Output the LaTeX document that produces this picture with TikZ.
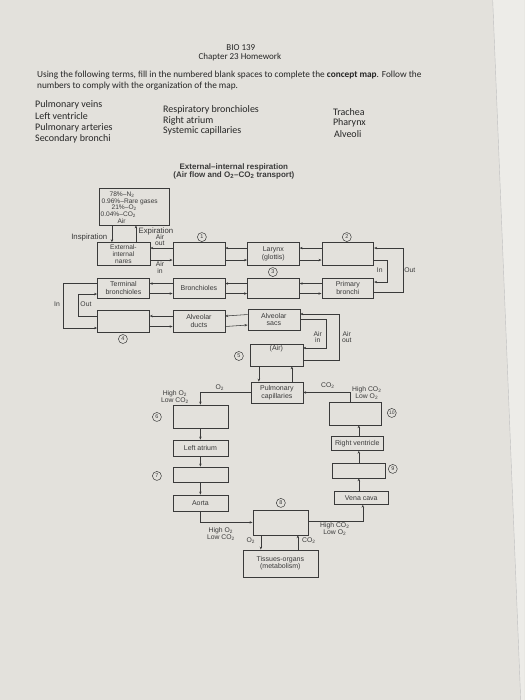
\documentclass[tikz,border=0pt]{standalone}
\usepackage{fontspec}
\setmainfont{Liberation Sans}
\newfontfamily\hfont{Carlito}
\usetikzlibrary{arrows.meta}
\definecolor{paper}{HTML}{E3E1DC}
\definecolor{strip}{HTML}{EDECE8}
\definecolor{ink}{HTML}{3A3A3A}
\begin{document}
\begin{tikzpicture}[x=1pt,y=-1pt,
 bx/.style={draw=ink, line width=0.6pt, minimum width=52pt, minimum height=22pt, inner sep=0.5pt, align=center, text=ink, font=\fontsize{7}{7.6}\selectfont},
 num/.style={circle, draw=ink, line width=0.5pt, minimum size=9pt, inner sep=0pt, text=ink, font=\fontsize{5.5}{6}\selectfont},
 arr/.style={draw=ink, line width=0.55pt, -{Stealth[length=3pt,width=2.4pt]}},
 lbl/.style={text=ink, inner sep=0.5pt, align=center, font=\fontsize{6.8}{6.5}\selectfont},
 hd/.style={text=black!85, inner sep=0pt, font=\hfont\fontsize{9.3}{10}\selectfont},
 term/.style={text=black!85, inner sep=0pt, anchor=west, font=\hfont\fontsize{10}{11}\selectfont},
]
% background
\fill[paper] (0,0) rectangle (525,700);
\fill[strip] (493,0) -- (525,0) -- (525,700) -- (521,700) -- cycle;
\draw[black!25, line width=0.4pt] (493,0) -- (521,700);
\useasboundingbox (0,0) rectangle (525,700);

% header
\node[hd, font=\hfont\fontsize{9}{10}\selectfont] (bio) at (241,47) {BIO 139};
\node[hd, font=\hfont\fontsize{9}{10}\selectfont] (chap) at (240,57) {Chapter 23 Homework};
\node[hd, anchor=west] (ins1) at (37,75) {Using the following terms, fill in the numbered blank spaces to complete the \textbf{concept map}. Follow the};
\node[hd, anchor=west] (ins2) at (37,86) {numbers to comply with the organization of the map.};
\node[term] (t1) at (35,105) {Pulmonary veins};
\node[term] (t2) at (35,116) {Left ventricle};
\node[term] (t3) at (35,127.5) {Pulmonary arteries};
\node[term] (t4) at (35,138.5) {Secondary bronchi};
\node[term] (t5) at (163,110) {Respiratory bronchioles};
\node[term] (t6) at (163,120.5) {Right atrium};
\node[term] (t7) at (163,131) {Systemic capillaries};
\node[term] (t8) at (333,112) {Trachea};
\node[term] (t9) at (333,123) {Pharynx};
\node[term] (t10) at (334,134) {Alveoli};

\node[text=ink, align=center, inner sep=0pt, font=\bfseries\fontsize{8}{7.6}\selectfont] (ttl) at (234,171.5) {External--internal respiration\\(Air flow and O\textsubscript{2}--CO\textsubscript{2} transport)};

% boxes
\node[bx, minimum width=70pt, minimum height=37pt] (air) at (134,206.5) {};
\node[lbl, align=left, anchor=west, font=\fontsize{6.6}{6.7}\selectfont] (airtxt) at (100,207.5) {\hspace{9pt}78\%--N\textsubscript{2}\\\hspace{1pt}0.96\%--Rare gases\\\hspace{11pt}21\%--O\textsubscript{2}\\0.04\%--CO\textsubscript{2}\\\hspace{17pt}Air};
\node[bx, minimum width=53pt, minimum height=23pt, font=\fontsize{6.6}{6.7}\selectfont] (nares) at (123.5,254) {External-\\internal\\nares};
\node[bx, minimum height=23pt] (b1) at (199,254) {};
\node[bx, minimum height=23pt] (lar) at (273.5,254) {Larynx\\(glottis)};
\node[bx, minimum height=23pt] (b2) at (348,254) {};

\node[bx, minimum height=20pt] (tb) at (123.5,288) {Terminal\\bronchioles};
\node[bx, minimum height=20pt] (bron) at (199,288) {Bronchioles};
\node[bx, minimum height=20pt] (b3) at (273.5,288) {};
\node[bx, minimum height=20pt] (pb) at (348,288) {Primary\\bronchi};

\node[bx] (b4) at (123.5,321) {};
\node[bx] (ad) at (199,321) {Alveolar\\ducts};
\node[bx, minimum height=21pt] (sacs) at (274,319.5) {Alveolar\\sacs};

\node[bx, minimum width=53pt] (airb) at (276.5,355) {};
\node[lbl, font=\fontsize{7}{7}\selectfont] (airlbl) at (276.5,349) {(Air)};
\node[bx, minimum height=21pt] (pulm) at (277,392.5) {Pulmonary\\capillaries};

\node[bx, minimum width=55pt, minimum height=23pt] (b6) at (200.5,416.5) {};
\node[bx, minimum width=55pt, minimum height=16pt] (la) at (200.5,448) {Left atrium};
\node[bx, minimum width=55pt, minimum height=15pt] (b7) at (200.5,474.5) {};
\node[bx, minimum width=55pt, minimum height=16pt] (aorta) at (200.5,503) {Aorta};
\node[bx, minimum width=55pt, minimum height=25pt] (b8) at (280.5,522.5) {};
\node[bx, minimum width=75pt, minimum height=27pt] (tis) at (280.5,563.5) {Tissues-organs\\(metabolism)};
\node[bx, minimum width=55pt, minimum height=13pt] (vena) at (361.5,498) {Vena cava};
\node[bx, minimum width=54pt, minimum height=15pt] (b9) at (359,470.5) {};
\node[bx, minimum width=53pt, minimum height=14pt] (rv) at (357.5,443.5) {Right ventricle};
\node[bx, minimum width=53pt, minimum height=23pt] (b10) at (355.5,413.5) {};

% numbers
\node[num] (n1) at (202,237) {1};
\node[num] (n2) at (347,237) {2};
\node[num] (n3) at (273,272) {3};
\node[num] (n4) at (123,339) {4};
\node[num] (n5) at (239,356) {5};
\node[num] (n6) at (157,417) {6};
\node[num] (n7) at (157,476) {7};
\node[num] (n8) at (281,503) {8};
\node[num] (n9) at (393,469) {9};
\node[num, font=\fontsize{5}{5}\selectfont] (n10) at (392,413) {10};

% guides
\coordinate (gI) at (112,0);
\coordinate (gE) at (136,0);
\coordinate (gA) at (259,0);
\coordinate (gB) at (292,0);
\coordinate (gO) at (261,0);
\coordinate (gC) at (298,0);
\coordinate (gR) at (359,0);
\coordinate (gT) at (350,0);

% connectors top
\draw[arr] (air.south -| gI) -- (nares.north -| gI);
\draw[arr] (nares.north -| gE) -- (air.south -| gE);
\foreach \l/\r in {nares/b1, b1/lar, lar/b2}{
  \draw[arr] ([yshift=6pt]\r.west) -- ([yshift=6pt]\l.east);
  \draw[arr] ([yshift=-6pt]\l.east) -- ([yshift=-6pt]\r.west);
}
\foreach \l/\r in {tb/bron, bron/b3, b3/pb}{
  \draw[arr] ([yshift=4.5pt]\r.west) -- ([yshift=4.5pt]\l.east);
  \draw[arr] ([yshift=-5.5pt]\l.east) -- ([yshift=-5.5pt]\r.west);
}
\foreach \l/\r in {b4/ad, ad/sacs}{
  \draw[arr] ([yshift=5pt]\r.west) -- ([yshift=5pt]\l.east);
  \draw[arr] ([yshift=-5.5pt]\l.east) -- ([yshift=-5.5pt]\r.west);
}
% right loop trachea/primary bronchi
\draw[arr] ([yshift=-6pt]b2.east) -- ++(13,0) |- ([yshift=6pt]pb.east);
\draw[arr] ([yshift=-4pt]pb.east) -- ++(29,0) |- ([yshift=6pt]b2.east);
% left loop
\draw[arr] ([yshift=5pt]tb.west) -- ++(-34,0) |- ([yshift=-7pt]b4.west);
\draw[arr] ([yshift=5pt]b4.west) -- ++(-19,0) |- ([yshift=-6pt]tb.west);
% air loop
\draw[arr] (sacs.east) -- ++(26,0) |- ([yshift=7pt]airb.east);
\draw[arr] ([yshift=-5pt]airb.east) -- ++(36,0) |- ([yshift=5.5pt]sacs.east);
% air <-> pulmonary capillaries
\draw[arr] (airb.south -| gA) -- (pulm.north -| gA);
\draw[arr] (pulm.north -| gB) -- (airb.south -| gB);
% circulation
\draw[arr] (pulm.west) -| (b6.north);
\draw[arr] (b10.north -| gT) |- (pulm.east);
\draw[arr] (b6.south) -- (la.north);
\draw[arr] (la.south) -- (b7.north);
\draw[arr] (b7.south) -- (aorta.north);
\draw[arr] (aorta.south) |- (b8.west);
\draw[arr] (b8.south -| gO) -- (tis.north -| gO);
\draw[arr] (tis.north -| gC) -- (b8.south -| gC);
\draw[arr] ([yshift=1.5pt]b8.east) -| ([xshift=1.5pt]vena.south);
\draw[arr] (vena.north -| gR) -- (b9.south -| gR);
\draw[arr] (b9.north -| gR) -- (rv.south -| gR);
\draw[arr] (rv.north -| gR) -- (b10.south -| gR);

% labels
\node[lbl, anchor=east, font=\fontsize{7.8}{7}\selectfont] (linsp) at (108,237) {Inspiration};
\node[lbl, anchor=west, font=\fontsize{7.8}{7}\selectfont] (lexp) at (138,231) {Expiration};
\node[lbl] (lairout) at (160,240) {Air\\out};
\node[lbl] (lairin) at (160,267.5) {Air\\in};
\node[lbl] (lin1) at (380,270) {In};
\node[lbl] (lout1) at (410,270) {Out};
\node[lbl] (lin2) at (57,304) {In};
\node[lbl] (lout2) at (86,304) {Out};
\node[lbl] (lain) at (318,337) {Air\\in};
\node[lbl] (laout) at (347,337) {Air\\out};
\node[lbl] (lo2a) at (220,388) {O\textsubscript{2}};
\node[lbl] (lhi1) at (175,397) {High O\textsubscript{2}\\Low CO\textsubscript{2}};
\node[lbl] (lco2a) at (328,386) {CO\textsubscript{2}};
\node[lbl] (lhi2) at (367,393) {High CO\textsubscript{2}\\Low O\textsubscript{2}};
\node[lbl] (lhi3) at (221,534) {High O\textsubscript{2}\\Low CO\textsubscript{2}};
\node[lbl] (lo2b) at (251,541) {O\textsubscript{2}};
\node[lbl] (lco2b) at (309,541) {CO\textsubscript{2}};
\node[lbl] (lhi4) at (335,529) {High CO\textsubscript{2}\\Low O\textsubscript{2}};
\end{tikzpicture}
\end{document}
